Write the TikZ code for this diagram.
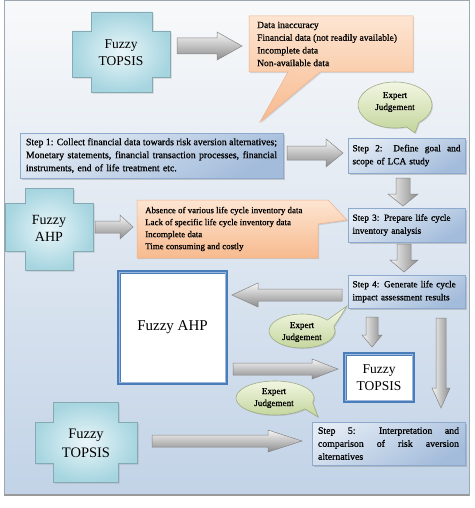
\documentclass[tikz,border=0pt]{standalone}
\usepackage{fontspec}
\setmainfont{Liberation Serif}
\newfontfamily\txtfont[FakeBold=0.8]{Liberation Serif}
\usetikzlibrary{shadows,calc}
\definecolor{panelTop}{HTML}{F8F9FA}
\definecolor{panelMid}{HTML}{D8E3EF}
\definecolor{panelBot}{HTML}{C2D3E7}
\definecolor{panelEdge}{HTML}{9DA7B2}
\definecolor{stepTop}{HTML}{E2EAF4}
\definecolor{stepBot}{HTML}{A3BCDB}
\definecolor{stepEdge}{HTML}{8EA9CE}
\definecolor{orTop}{HTML}{FDE5D2}
\definecolor{orBot}{HTML}{F7BA8E}
\definecolor{orEdge}{HTML}{EDB08A}
\definecolor{ejTop}{HTML}{F4F8E6}
\definecolor{ejBot}{HTML}{C3D59B}
\definecolor{ejEdge}{HTML}{9EAB86}
\definecolor{crIn}{HTML}{EAF6F9}
\definecolor{crOut}{HTML}{A6D5E0}
\definecolor{bigEdge}{HTML}{4A7EBB}
\definecolor{bigIn}{HTML}{9DB8DC}
\definecolor{arLight}{HTML}{F6F6F6}
\definecolor{arDark}{HTML}{8C8C8C}
\definecolor{arEdge}{HTML}{858585}
\newcommand\stepfnt{\txtfont\fontsize{9.8}{13}\selectfont\hyphenpenalty=10000\exhyphenpenalty=10000}
\newcommand\stepfntS{\txtfont\fontsize{9.3}{13}\selectfont\hyphenpenalty=10000\exhyphenpenalty=10000}
\newcommand\callfntA{\txtfont\fontsize{9.5}{12.7}\selectfont}
\newcommand\callfntB{\txtfont\fontsize{8.9}{12}\selectfont}
\newcommand\ejfnt{\txtfont\fontsize{9.1}{12}\selectfont}
% a justified line of given width
\newcommand\jline[2]{\makebox[#1][s]{\spaceskip=0pt\xspaceskip=0pt #2}}
% horizontal block arrow: tail x, head start x, tip x, centre y, body half, head half
\newcommand\harrowpath[6]{(#1,#4-#5) -- (#2,#4-#5) -- (#2,#4-#6) -- (#3,#4) -- (#2,#4+#6) -- (#2,#4+#5) -- (#1,#4+#5) -- cycle}
% vertical block arrow: tail y, head start y, tip y, centre x, body half, head half
\newcommand\varrowpath[6]{(#4-#5,#1) -- (#4-#5,#2) -- (#4-#6,#2) -- (#4,#3) -- (#4+#6,#2) -- (#4+#5,#2) -- (#4+#5,#1) -- cycle}
% cross (plus) shape
\newcommand\crosspath[8]{(#2,#5) -- (#3,#5) -- (#3,#6) -- (#4,#6) -- (#4,#7) -- (#3,#7) -- (#3,#8) -- (#2,#8) -- (#2,#7) -- (#1,#7) -- (#1,#6) -- (#2,#6) -- cycle}
\begin{document}
\begin{tikzpicture}[x=1pt,y=-1pt,
  stepbox/.style={draw=stepEdge, line width=0.6pt, top color=stepTop, bottom color=stepBot, shading angle=30,
    drop shadow={shadow xshift=1.6pt, shadow yshift=-1.6pt, opacity=0.35}, inner sep=0pt, font=\stepfnt, align=left},
  callout/.style={draw=orEdge, line width=0.5pt, top color=orTop, bottom color=orBot,
    drop shadow={shadow xshift=1.2pt, shadow yshift=-1.2pt, opacity=0.25}},
  ejudge/.style={draw=ejEdge, line width=0.6pt, top color=ejTop, bottom color=ejBot,
    drop shadow={shadow xshift=1pt, shadow yshift=-1pt, opacity=0.25}},
  crossbox/.style={draw=crOut!80!black, line width=0.3pt, inner color=crIn, outer color=crOut,
    drop shadow={shadow xshift=1.6pt, shadow yshift=-1.6pt, opacity=0.3}},
  bigbox/.style={draw=bigEdge, line width=3.5pt, fill=white, inner sep=0pt,
    drop shadow={shadow xshift=1.5pt, shadow yshift=-1.5pt, opacity=0.3}},
  harrow/.style={draw=arEdge, line width=0.5pt, top color=arLight, bottom color=arDark},
  varrow/.style={draw=arEdge, line width=0.5pt, left color=arLight, right color=arDark},
  txt/.style={inner sep=0pt, align=center}
]
\useasboundingbox (0,0) rectangle (474,508);
\fill[white] (0,0) rectangle (474,508);
% panel
\path[top color=panelTop, middle color=panelMid, bottom color=panelBot] (4,1) rectangle (469,495);
\draw[panelEdge, line width=1pt] (4,1) rectangle (469,495);
\draw[gray!80, line width=1.4pt] (4,495) -- (469,495);

% ---------- crosses ----------
\path[crossbox] \crosspath{72}{91}{152}{170}{12}{31}{77}{92};
\node[txt, font=\fontsize{13.5}{17}\selectfont] (ftop) at (121,53) {Fuzzy\\TOPSIS};
\path[crossbox] \crosspath{5}{25}{73}{93}{188}{203}{251}{270};
\node[txt, font=\fontsize{14}{17}\selectfont] (fahp) at (49,228) {Fuzzy\\AHP};
\path[crossbox] \crosspath{35}{53}{118}{137}{402}{422}{463}{482};
\node[txt, font=\fontsize{14.5}{19}\selectfont] (fbot) at (86,443) {Fuzzy\\TOPSIS};

% ---------- callouts ----------
\path[callout] (249,16) -- (413,16) -- (413,72) -- (320,72) -- (260,122) -- (288,72) -- (249,72) -- cycle;
\node[anchor=west, inner sep=0pt, align=left, font=\callfntA] (c1) at (257,44)
  {Data inaccuracy\\Financial data (not readily available)\\Incomplete data\\Non-available data};
\path[callout] (137,200) -- (328,200) -- (347,220) -- (318,224) -- (318,258) -- (137,258) -- cycle;
\node[anchor=west, inner sep=0pt, align=left, font=\callfntB] (c2) at (145,229)
  {Absence of various life cycle inventory data\\Lack of specific life cycle inventory data\\Incomplete data\\Time consuming and costly};

% ---------- expert judgement bubbles ----------
\path[ejudge] ($(395,105)+(72:37 and 23)$) arc[start angle=72, end angle=410, x radius=37, y radius=23] -- (415,133) -- cycle;
\node[txt, font=\ejfnt] (ej1) at (395,102) {Expert\\Judgement};
\path[ejudge] ($(302,331)+(-15:33 and 17)$) arc[start angle=-15, end angle=320, x radius=33, y radius=17] -- (347,306) -- cycle;
\node[txt, font=\ejfnt] (ej2) at (302,332) {Expert\\Judgement};
\path[ejudge] ($(275,398)+(40:39 and 17)$) arc[start angle=40, end angle=375, x radius=39, y radius=17] -- (318,417) -- cycle;
\node[txt, font=\ejfnt] (ej3) at (274,398) {Expert\\Judgement};

% ---------- steps ----------
\node[stepbox, minimum width=263pt, minimum height=45pt, text width=251pt] (s1) at (151.5,155.5)
  {\jline{251pt}{Step 1: Collect financial data towards risk aversion alternatives;}\\
   \jline{251pt}{Monetary statements, financial transaction processes, financial}\\
   instruments, end of life treatment etc.};
\node[stepbox, font=\stepfntS, minimum width=117pt, minimum height=35pt, text width=108pt] (s2) at (406.5,155.5)
  {\jline{108pt}{Step 2: Define goal and}\\\mbox{scope of LCA study}};
\node[stepbox, font=\stepfntS, minimum width=117pt, minimum height=34pt, text width=108pt] (s3) at (406.5,225)
  {\mbox{Step 3: Prepare life cycle}\\\mbox{inventory analysis}};
\node[stepbox, font=\stepfntS, minimum width=117pt, minimum height=33pt, text width=108pt] (s4) at (406.5,291.5)
  {\mbox{Step 4: Generate life cycle}\\\mbox{impact assessment results}};
\node[stepbox, minimum width=153pt, minimum height=43pt, text width=141pt] (s5) at (388.5,443.5)
  {\jline{141pt}{Step 5: Interpretation and}\\\jline{141pt}{comparison of risk aversion}\\alternatives};

% ---------- big boxes ----------
\node[bigbox, minimum width=107.5pt, minimum height=111.5pt, font=\fontsize{15}{18}\selectfont] (bahp) at (172.5,327.5) {Fuzzy AHP};
\draw[bigIn, line width=0.8pt] ($(bahp.south west)+(2.2,-2.2)$) rectangle ($(bahp.north east)+(-2.2,2.2)$);
\node[bigbox, minimum width=68.5pt, minimum height=47.5pt, align=center, font=\fontsize{13.5}{17}\selectfont] (btop) at (379,377.5) {Fuzzy\\TOPSIS};
\draw[bigIn, line width=0.8pt] ($(btop.south west)+(2.2,-2.2)$) rectangle ($(btop.north east)+(-2.2,2.2)$);

% ---------- block arrows ----------
\path[harrow] \harrowpath{177}{217}{242}{46}{8}{14};
\path[harrow] \harrowpath{287}{326}{343}{153}{7}{14};
\path[harrow] \harrowpath{95}{120}{133}{227}{6}{12};
\path[harrow] \harrowpath{342}{258}{232}{295}{6}{12};
\path[harrow] \harrowpath{233}{312}{338}{369}{6}{10};
\path[harrow] \harrowpath{152}{268}{302}{441}{6}{11};
\path[varrow] \varrowpath{178}{194}{206}{403}{7}{15};
\path[varrow] \varrowpath{244}{260}{272}{404}{7}{14};
\path[varrow] \varrowpath{317}{335}{347}{372}{6}{10};
\path[varrow] \varrowpath{318}{388}{408}{441}{5}{9};
\end{tikzpicture}
\end{document}
